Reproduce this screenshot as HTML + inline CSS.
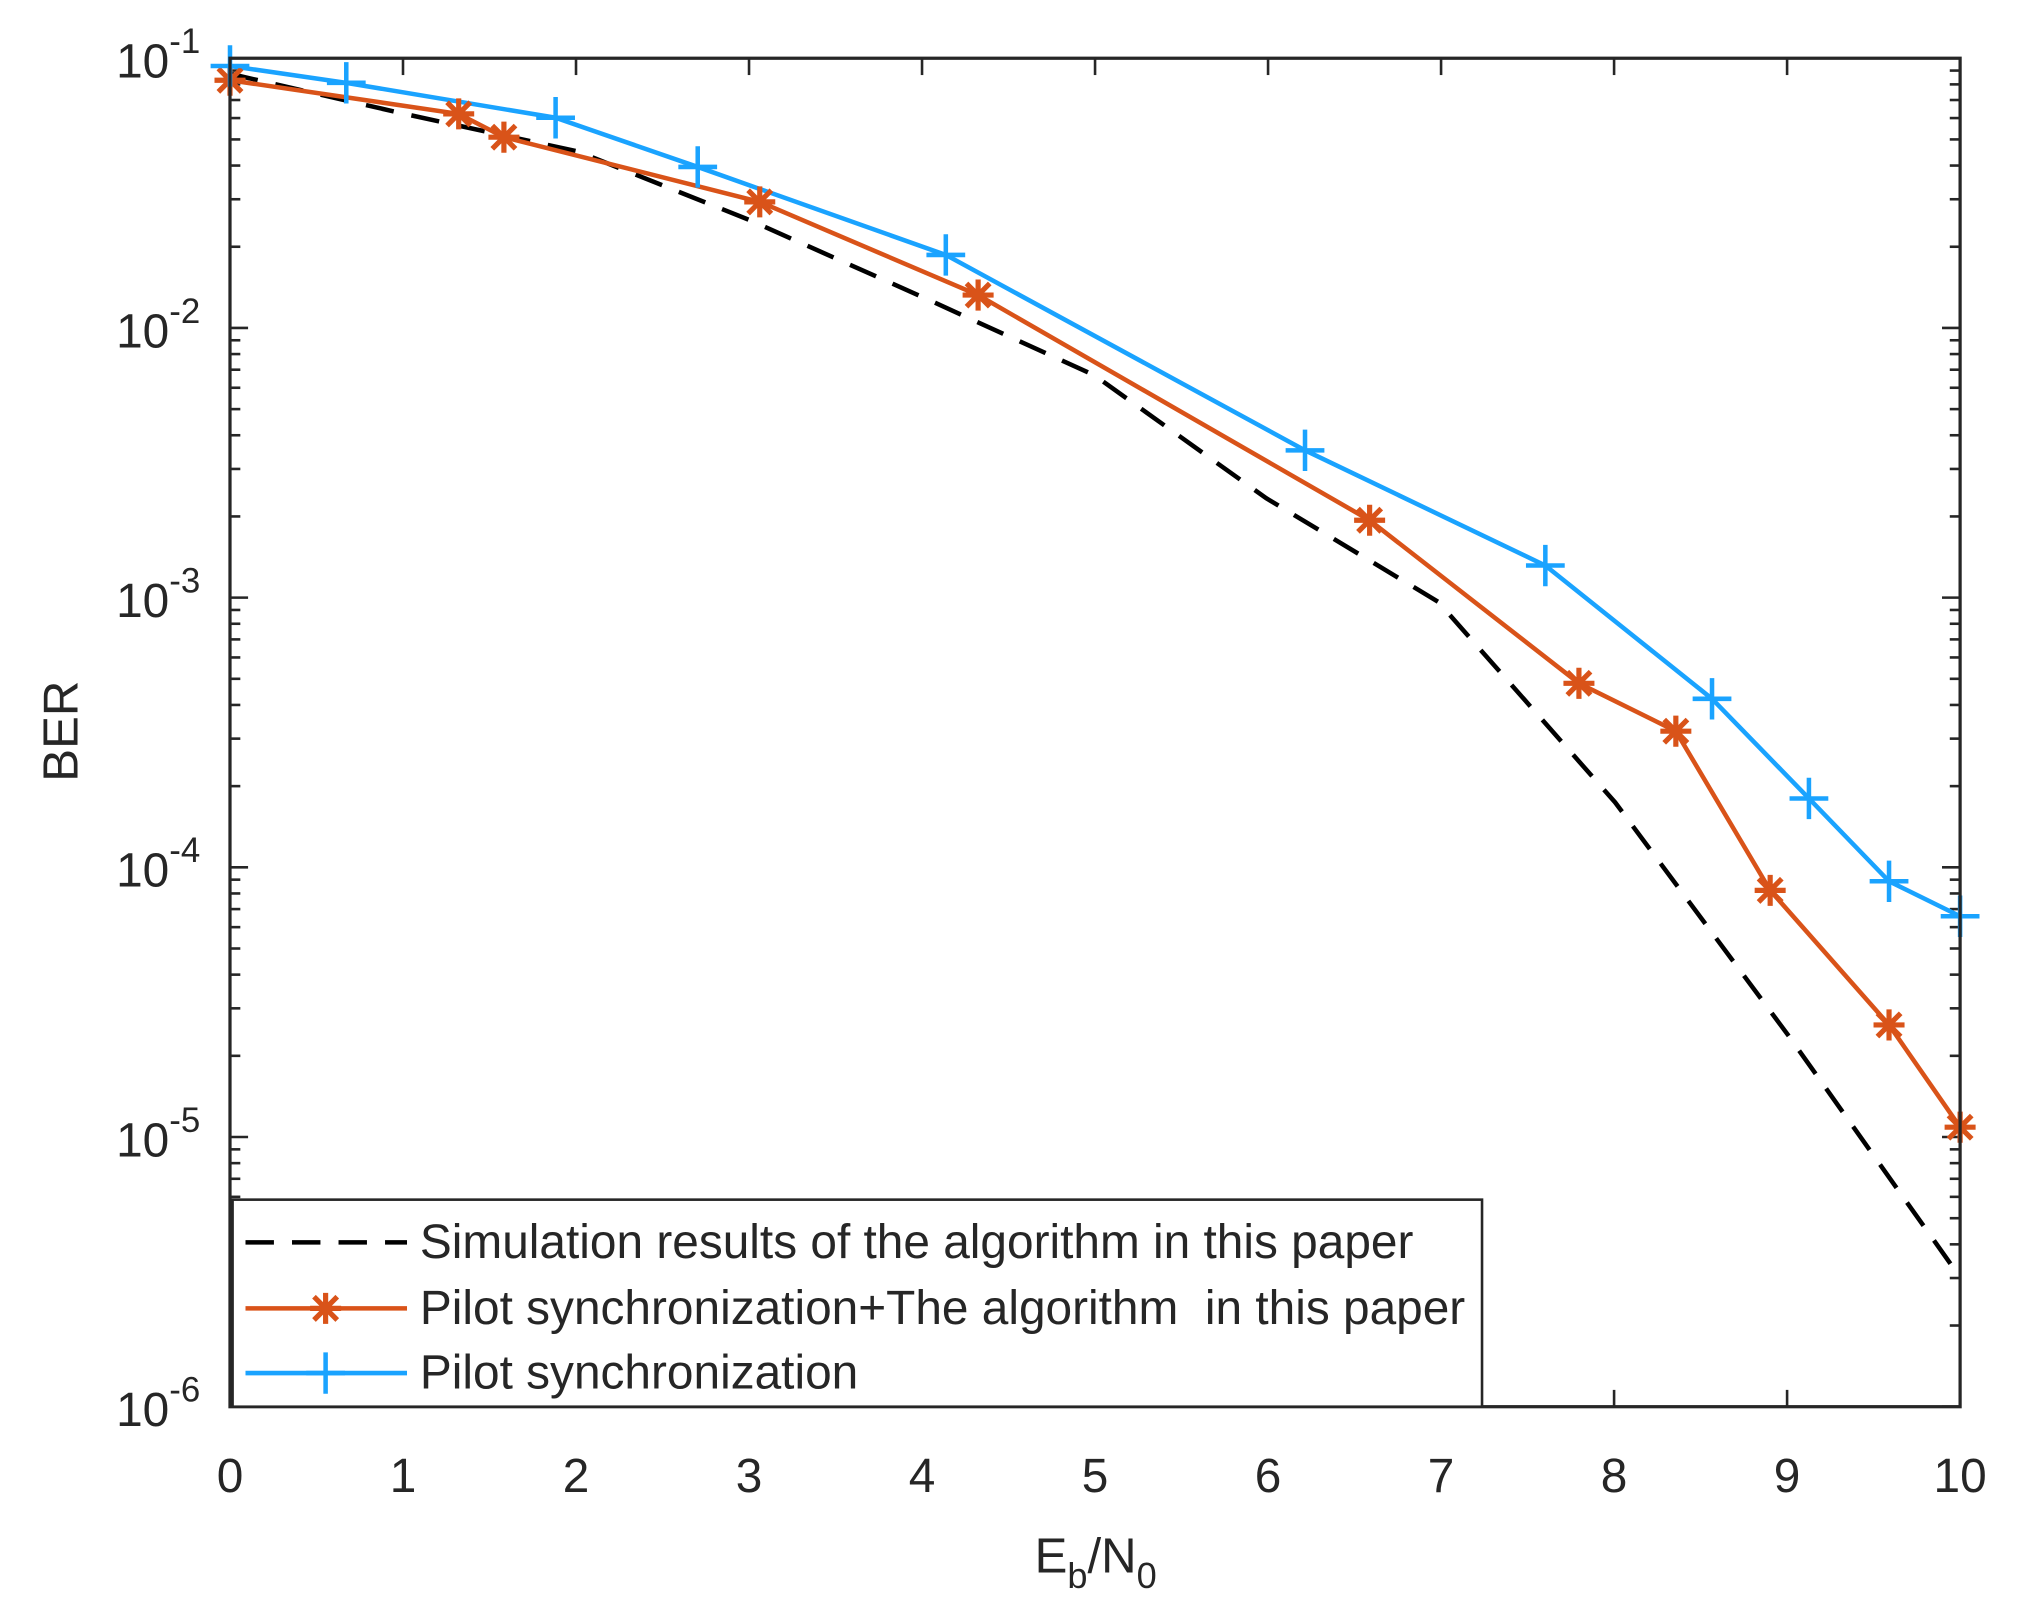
<!DOCTYPE html>
<html><head><meta charset="utf-8"><style>
html,body{margin:0;padding:0;background:#fff;}
svg{display:block;}
text{font-family:"Liberation Sans",Arial,sans-serif;fill:#262626;white-space:pre;}
</style></head><body>
<svg id="s" width="2026" height="1606" viewBox="0 0 1568 1241" preserveAspectRatio="none" xmlns="http://www.w3.org/2000/svg">
<defs>
<g id="ast"><path d="M-12,0H12M0,-12V12M-9,-9L9,9M-9,9L9,-9" stroke="#D95319" stroke-width="4" fill="none"/></g>
<g id="pl"><path d="M-15,0H15M0,-16V16" stroke="#1AA3FF" stroke-width="3.5" fill="none"/></g>
</defs>
<rect x="0" y="0" width="1568" height="1241" fill="#fff"/>
<g id="ticks" stroke="#262626" stroke-width="2"></g>
<polyline fill="none" stroke="#000" stroke-width="3.5" stroke-dasharray="22,14" points="178,57 313,88 447,117 580,170 715,230 847,290 980,385 1113,465 1250,620 1384,800 1517,987"/>
<polyline fill="none" stroke="#D95319" stroke-width="3.5" points="178,62 355,88 390,106 588,156 757,228 1060,402 1222,528 1297,565 1370,688 1462,792 1517,871"/>
<polyline fill="none" stroke="#1AA3FF" stroke-width="3.5" points="178,51 268,64 430,91 540,129 732,197 1010,348 1196,437 1325,540 1400,617 1462,681 1517,708"/>
<g id="mk"></g>
<rect x="178" y="45" width="1339" height="1042" fill="none" stroke="#262626" stroke-width="2.5"/>
<rect x="180" y="927" width="967" height="160" fill="#fff" stroke="#262626" stroke-width="2"/>
<line x1="190" y1="960" x2="315" y2="960" stroke="#000" stroke-width="3.5" stroke-dasharray="22,14"/>
<line x1="190" y1="1011" x2="315" y2="1011" stroke="#D95319" stroke-width="3.5"/>
<use href="#ast" x="252" y="1011"/>
<line x1="190" y1="1061" x2="315" y2="1061" stroke="#1AA3FF" stroke-width="3.5"/>
<use href="#pl" x="252" y="1061"/>
<text x="325" y="972" font-size="37" xml:space="preserve">Simulation results of the algorithm in this paper</text>
<text x="325" y="1023" font-size="37" xml:space="preserve">Pilot synchronization+The algorithm  in this paper</text>
<text x="325" y="1073" font-size="37" xml:space="preserve">Pilot synchronization</text>
<g id="lab"></g>
<text x="0" y="0" font-size="38" transform="translate(60,565) rotate(-90)" text-anchor="middle">BER</text>
<text x="848" y="1215" font-size="38" text-anchor="middle">E<tspan font-size="28" dy="12">b</tspan><tspan dy="-12">/N</tspan><tspan font-size="28" dy="12">0</tspan></text>
</svg>
<script>
var NS="http://www.w3.org/2000/svg";
function el(p,t,a,txt){var e=document.createElementNS(NS,t);for(var k in a)e.setAttribute(k,a[k]);if(txt!=null)e.textContent=txt;document.getElementById(p).appendChild(e);return e;}
var L=178,R=1517,T=45,B=1087,dec=(B-T)/5,xs=(R-L)/10;
for(var i=0;i<=10;i++){var x=L+i*xs;
 el("ticks","line",{x1:x,y1:B,x2:x,y2:B-13});el("ticks","line",{x1:x,y1:T,x2:x,y2:T+13});
 el("lab","text",{x:x,y:1153,"font-size":37,"text-anchor":"middle"},String(i));}
for(var d=0;d<=5;d++){var y=T+d*dec;
 el("ticks","line",{x1:L,y1:y,x2:L+14,y2:y});el("ticks","line",{x1:R,y1:y,x2:R-14,y2:y});
 el("lab","text",{x:131,y:y+15,"font-size":37,"text-anchor":"end"},"10");
 el("lab","text",{x:131,y:y-4,"font-size":27},"-"+(d+1));
 if(d<5){for(var m=2;m<=9;m++){var yy=T+(d+1)*dec-dec*Math.log10(m);
  el("ticks","line",{x1:L,y1:yy,x2:L+8,y2:yy});el("ticks","line",{x1:R,y1:yy,x2:R-8,y2:yy});}}}
var o=[[178,62],[355,88],[390,106],[588,156],[757,228],[1060,402],[1222,528],[1297,565],[1370,688],[1462,792],[1517,871]];
var b=[[178,51],[268,64],[430,91],[540,129],[732,197],[1010,348],[1196,437],[1325,540],[1400,617],[1462,681],[1517,708]];
o.forEach(function(p){el("mk","use",{href:"#ast",x:p[0],y:p[1]});});
b.forEach(function(p){el("mk","use",{href:"#pl",x:p[0],y:p[1]});});
</script>
</body></html>
